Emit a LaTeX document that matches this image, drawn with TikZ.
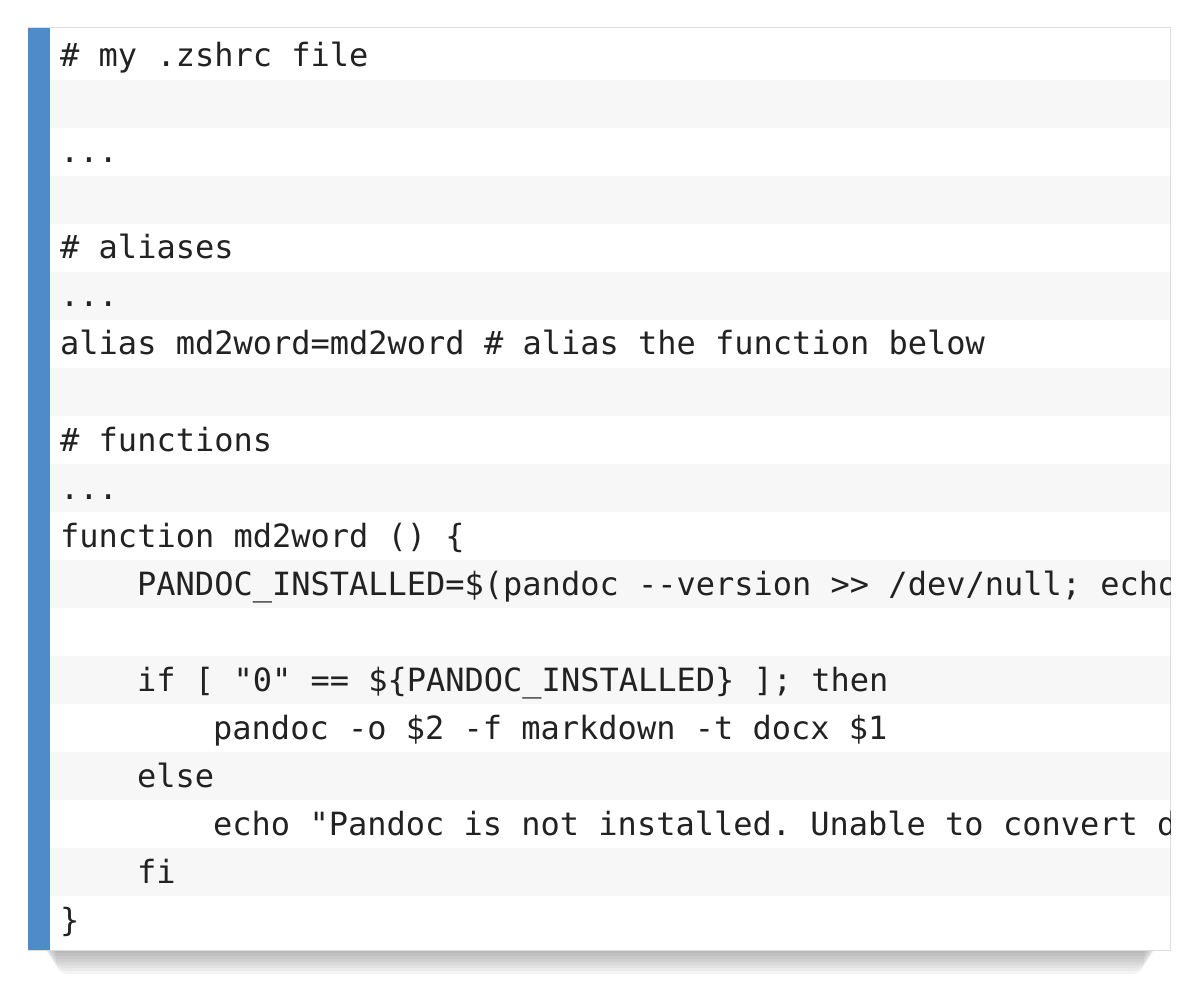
\documentclass[tikz,border=0pt]{standalone}
\usepackage{fontspec}
\setmonofont{DejaVu Sans Mono}
\definecolor{codebar}{HTML}{4F8AC9}
\definecolor{codestripe}{HTML}{F7F7F7}
\definecolor{codeframe}{HTML}{DDDDDD}
\definecolor{codetext}{HTML}{222222}
\tikzset{
  codeline/.style={anchor=base west, inner sep=0pt, font=\ttfamily\fontsize{32}{32}\selectfont, text=codetext},
}
\newcommand{\rowY}[1]{67+48*#1}
\begin{document}
\begin{tikzpicture}[x=1pt,y=-1pt]
\useasboundingbox (0,0) rectangle (1200,992);
% shadow under the block
\foreach \k in {1,...,8}
  \fill[black,opacity=0.04,rounded corners=12pt] (40+2*\k,60) rectangle (1160-2*\k,950+3*\k);
\fill[white] (28,28) rectangle (1170,950);
% stripes
\foreach \i in {1,3,...,17}
  \fill[codestripe] (50,32+48*\i) rectangle (1170,80+48*\i);
\draw[codeframe,line width=1pt] (28,28) rectangle (1170,950);
\fill[codebar] (28,28) rectangle (50,950);
\begin{scope}
\clip (50,28) rectangle (1170,950);
\node[codeline] (l0) at (60,{\rowY{0}}) {\# my .zshrc file};
\node[codeline] (l2) at (60,{\rowY{2}}) {...};
\node[codeline] (l4) at (60,{\rowY{4}}) {\# aliases};
\node[codeline] (l5) at (60,{\rowY{5}}) {...};
\node[codeline] (l6) at (60,{\rowY{6}}) {alias md2word=md2word \# alias the function below};
\node[codeline] (l8) at (60,{\rowY{8}}) {\# functions};
\node[codeline] (l9) at (60,{\rowY{9}}) {...};
\node[codeline] (l10) at (60,{\rowY{10}}) {function md2word () \{};
\node[codeline] (l11) at (137,{\rowY{11}}) {PANDOC\_INSTALLED=\$(pandoc -{}-version >{}> /dev/null; echo \$?)};
\node[codeline] (l13) at (137,{\rowY{13}}) {if [ "0" == \$\{PANDOC\_INSTALLED\} ]; then};
\node[codeline] (l14) at (213,{\rowY{14}}) {pandoc -o \$2 -f markdown -t docx \$1};
\node[codeline] (l15) at (137,{\rowY{15}}) {else};
\node[codeline] (l16) at (213,{\rowY{16}}) {echo "Pandoc is not installed. Unable to convert document."};
\node[codeline] (l17) at (137,{\rowY{17}}) {fi};
\node[codeline] (l18) at (60,{\rowY{18}}) {\}};
\end{scope}
\end{tikzpicture}
\end{document}
